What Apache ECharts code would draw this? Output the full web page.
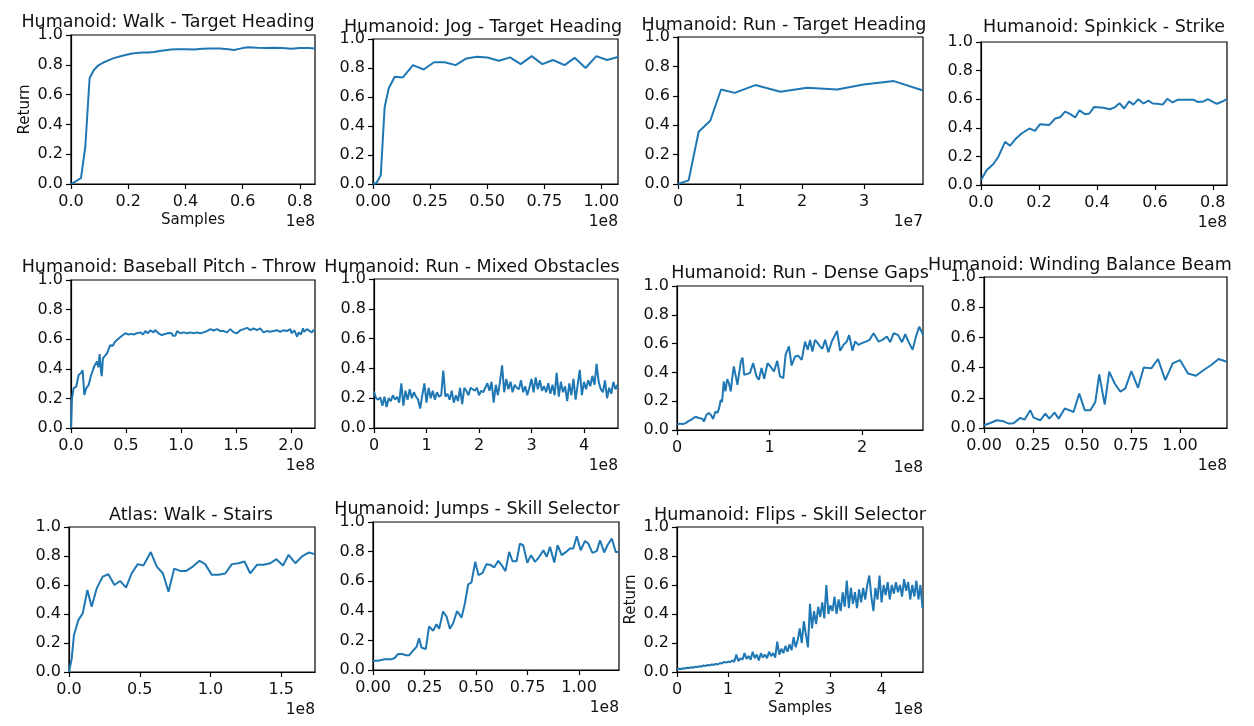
<!DOCTYPE html>
<html>
<head>
<meta charset="utf-8">
<title>Learning curves</title>
<script src="https://cdn.jsdelivr.net/npm/echarts@6/dist/echarts.min.js"></script>
<style>
  html, body { margin: 0; padding: 0; background: #fff; }
  #chart { width: 1254px; height: 726px; }
</style>
</head>
<body>
<div id="chart"></div>
<script>
// ---- data (x in units of the axis multiplier shown at bottom right) ----
const walkX = [0, 0.018, 0.035, 0.05, 0.065, 0.08, 0.095, 0.11, 0.13, 0.15, 0.17, 0.19, 0.21, 0.23, 0.25, 0.27, 0.29, 0.31, 0.33, 0.35, 0.37, 0.40, 0.43, 0.46, 0.49, 0.52, 0.55, 0.57, 0.60, 0.62, 0.65, 0.68, 0.71, 0.74, 0.77, 0.80, 0.83, 0.853]
const walkY = [0.0, 0.02, 0.04, 0.25, 0.71, 0.765, 0.795, 0.812, 0.83, 0.845, 0.856, 0.866, 0.874, 0.88, 0.882, 0.882, 0.886, 0.893, 0.898, 0.902, 0.905, 0.905, 0.902, 0.907, 0.909, 0.91, 0.905, 0.9, 0.912, 0.918, 0.914, 0.912, 0.914, 0.912, 0.908, 0.912, 0.912, 0.91]

const jogX = [0, 0.015, 0.034, 0.051, 0.069, 0.095, 0.131, 0.175, 0.222, 0.267, 0.314, 0.362, 0.409, 0.455, 0.5, 0.552, 0.6, 0.647, 0.695, 0.742, 0.788, 0.839, 0.883, 0.931, 0.978, 1.025, 1.073]
const jogY = [0, 0.007, 0.06, 0.53, 0.66, 0.74, 0.735, 0.82, 0.79, 0.84, 0.84, 0.82, 0.866, 0.878, 0.873, 0.85, 0.873, 0.827, 0.882, 0.827, 0.855, 0.82, 0.87, 0.80, 0.882, 0.855, 0.876]

const runX = [0, 0.172, 0.333, 0.52, 0.694, 0.914, 1.247, 1.65, 2.08, 2.565, 2.995, 3.48, 3.95]
const runY = [0, 0.025, 0.355, 0.43, 0.643, 0.62, 0.673, 0.627, 0.655, 0.643, 0.677, 0.70, 0.636]

const spinX = [0, 0.02, 0.043, 0.06, 0.083, 0.1, 0.121, 0.14, 0.167, 0.186, 0.204, 0.236, 0.256, 0.273, 0.29, 0.307, 0.325, 0.34, 0.359, 0.374, 0.39, 0.422, 0.445, 0.463, 0.478, 0.494, 0.511, 0.526, 0.543, 0.561, 0.578, 0.593, 0.609, 0.627, 0.643, 0.661, 0.678, 0.71, 0.733, 0.75, 0.768, 0.783, 0.797, 0.814, 0.831, 0.848]
const spinY = [0.035, 0.105, 0.147, 0.198, 0.302, 0.274, 0.326, 0.36, 0.395, 0.379, 0.425, 0.42, 0.465, 0.474, 0.513, 0.497, 0.472, 0.522, 0.495, 0.5, 0.545, 0.54, 0.53, 0.545, 0.572, 0.535, 0.585, 0.562, 0.6, 0.57, 0.59, 0.57, 0.568, 0.562, 0.603, 0.577, 0.596, 0.596, 0.596, 0.58, 0.584, 0.6, 0.585, 0.568, 0.582, 0.6]

const baseX = [0, 0.009, 0.024, 0.048, 0.07, 0.09, 0.106, 0.121, 0.139, 0.16, 0.18, 0.21, 0.236, 0.248, 0.26, 0.273, 0.28, 0.29, 0.30, 0.327, 0.357, 0.38, 0.40, 0.433, 0.464, 0.494, 0.524, 0.55, 0.57, 0.59, 0.606, 0.63, 0.655, 0.676, 0.697, 0.72, 0.735, 0.75, 0.765, 0.78, 0.795, 0.81, 0.825, 0.84, 0.855, 0.87, 0.885, 0.90, 0.915, 0.927, 0.948, 0.964, 0.98, 0.994, 1.01, 1.024, 1.04, 1.055, 1.07, 1.085, 1.10, 1.115, 1.13, 1.145, 1.16, 1.176, 1.19, 1.206, 1.22, 1.236, 1.25, 1.267, 1.28, 1.297, 1.31, 1.327, 1.34, 1.358, 1.37, 1.388, 1.40, 1.418, 1.43, 1.448, 1.46, 1.479, 1.495, 1.509, 1.52, 1.539, 1.555, 1.57, 1.585, 1.60, 1.615, 1.63, 1.645, 1.66, 1.675, 1.69, 1.705, 1.72, 1.735, 1.75, 1.765, 1.78, 1.795, 1.81, 1.825, 1.84, 1.855, 1.873, 1.89, 1.903, 1.92, 1.933, 1.95, 1.964, 1.98, 1.994, 2.005, 2.018, 2.03, 2.039, 2.055, 2.07, 2.09, 2.109, 2.12, 2.13, 2.145, 2.16, 2.17, 2.19, 2.205, 2.218]
const baseY = [0, 0.2, 0.27, 0.28, 0.36, 0.37, 0.39, 0.224, 0.27, 0.29, 0.35, 0.415, 0.45, 0.41, 0.5, 0.38, 0.35, 0.47, 0.46, 0.505, 0.56, 0.556, 0.583, 0.605, 0.623, 0.64, 0.632, 0.636, 0.632, 0.638, 0.632, 0.646, 0.632, 0.655, 0.64, 0.66, 0.648, 0.646, 0.662, 0.65, 0.64, 0.632, 0.628, 0.623, 0.635, 0.646, 0.642, 0.655, 0.64, 0.623, 0.623, 0.655, 0.648, 0.64, 0.652, 0.646, 0.638, 0.64, 0.652, 0.646, 0.636, 0.64, 0.65, 0.646, 0.64, 0.64, 0.648, 0.646, 0.652, 0.655, 0.645, 0.668, 0.662, 0.659, 0.648, 0.668, 0.66, 0.655, 0.66, 0.655, 0.65, 0.646, 0.656, 0.668, 0.655, 0.646, 0.636, 0.64, 0.652, 0.661, 0.658, 0.668, 0.664, 0.677, 0.666, 0.661, 0.672, 0.673, 0.66, 0.661, 0.668, 0.673, 0.662, 0.646, 0.652, 0.655, 0.648, 0.65, 0.658, 0.655, 0.66, 0.661, 0.652, 0.65, 0.66, 0.661, 0.652, 0.655, 0.662, 0.668, 0.64, 0.632, 0.66, 0.655, 0.617, 0.646, 0.632, 0.673, 0.65, 0.646, 0.668, 0.66, 0.655, 0.646, 0.662, 0.655]

const mixedX = [0, 0.04, 0.08, 0.12, 0.16, 0.20, 0.24, 0.28, 0.32, 0.36, 0.40, 0.44, 0.48, 0.52, 0.56, 0.60, 0.64, 0.68, 0.72, 0.76, 0.80, 0.84, 0.88, 0.92, 0.96, 1.00, 1.04, 1.08, 1.12, 1.16, 1.20, 1.24, 1.28, 1.32, 1.36, 1.40, 1.44, 1.48, 1.52, 1.56, 1.60, 1.64, 1.68, 1.72, 1.76, 1.80, 1.84, 1.88, 1.92, 1.96, 2.00, 2.04, 2.08, 2.12, 2.16, 2.20, 2.24, 2.28, 2.32, 2.36, 2.40, 2.44, 2.48, 2.52, 2.56, 2.60, 2.64, 2.68, 2.72, 2.76, 2.80, 2.84, 2.88, 2.92, 2.96, 3.00, 3.04, 3.08, 3.12, 3.16, 3.20, 3.24, 3.28, 3.32, 3.36, 3.40, 3.44, 3.48, 3.52, 3.56, 3.60, 3.64, 3.68, 3.72, 3.76, 3.80, 3.84, 3.88, 3.92, 3.96, 4.00, 4.04, 4.08, 4.12, 4.16, 4.20, 4.24, 4.28, 4.32, 4.36, 4.40, 4.44, 4.48, 4.52, 4.56, 4.60, 4.64]
const mixedY = [0.245, 0.20, 0.19, 0.205, 0.15, 0.21, 0.14, 0.20, 0.18, 0.22, 0.19, 0.21, 0.17, 0.30, 0.15, 0.25, 0.19, 0.26, 0.20, 0.24, 0.21, 0.19, 0.13, 0.22, 0.30, 0.17, 0.27, 0.20, 0.25, 0.19, 0.24, 0.21, 0.22, 0.385, 0.21, 0.23, 0.19, 0.25, 0.17, 0.22, 0.18, 0.27, 0.16, 0.27, 0.25, 0.22, 0.27, 0.26, 0.25, 0.27, 0.22, 0.25, 0.24, 0.27, 0.30, 0.25, 0.31, 0.17, 0.29, 0.22, 0.31, 0.42, 0.24, 0.33, 0.26, 0.31, 0.24, 0.29, 0.27, 0.26, 0.32, 0.24, 0.28, 0.22, 0.27, 0.33, 0.24, 0.34, 0.26, 0.32, 0.25, 0.28, 0.24, 0.30, 0.23, 0.29, 0.22, 0.37, 0.21, 0.31, 0.24, 0.28, 0.18, 0.30, 0.22, 0.33, 0.19, 0.29, 0.39, 0.22, 0.31, 0.26, 0.32, 0.28, 0.35, 0.29, 0.43, 0.31, 0.26, 0.24, 0.32, 0.20, 0.27, 0.23, 0.31, 0.26, 0.29]

const gapsX = [0, 0.029, 0.065, 0.094, 0.119, 0.155, 0.199, 0.235, 0.271, 0.292, 0.318, 0.343, 0.365, 0.39, 0.415, 0.437, 0.455, 0.473, 0.487, 0.505, 0.523, 0.542, 0.56, 0.581, 0.596, 0.614, 0.632, 0.653, 0.671, 0.69, 0.708, 0.726, 0.751, 0.787, 0.823, 0.859, 0.884, 0.913, 0.942, 0.978, 1.01, 1.047, 1.083, 1.112, 1.148, 1.173, 1.209, 1.238, 1.274, 1.31, 1.347, 1.383, 1.412, 1.437, 1.462, 1.491, 1.52, 1.545, 1.57, 1.6, 1.635, 1.671, 1.7, 1.729, 1.762, 1.798, 1.834, 1.859, 1.895, 1.924, 1.96, 1.996, 2.04, 2.08, 2.123, 2.177, 2.22, 2.267, 2.303, 2.34, 2.386, 2.43, 2.466, 2.502, 2.545, 2.581, 2.617, 2.657]
const gapsY = [0.037, 0.044, 0.042, 0.048, 0.06, 0.072, 0.092, 0.083, 0.079, 0.06, 0.106, 0.118, 0.106, 0.076, 0.129, 0.118, 0.152, 0.21, 0.194, 0.337, 0.268, 0.353, 0.326, 0.268, 0.36, 0.441, 0.383, 0.314, 0.395, 0.476, 0.503, 0.383, 0.388, 0.395, 0.464, 0.372, 0.349, 0.43, 0.356, 0.464, 0.441, 0.406, 0.48, 0.372, 0.36, 0.522, 0.58, 0.448, 0.51, 0.515, 0.487, 0.614, 0.557, 0.626, 0.545, 0.626, 0.603, 0.58, 0.564, 0.626, 0.54, 0.614, 0.649, 0.688, 0.55, 0.591, 0.614, 0.66, 0.55, 0.614, 0.591, 0.603, 0.614, 0.626, 0.672, 0.614, 0.626, 0.649, 0.61, 0.672, 0.661, 0.61, 0.665, 0.61, 0.557, 0.649, 0.718, 0.66]

const beamX = [0, 0.032, 0.066, 0.1, 0.126, 0.151, 0.185, 0.207, 0.236, 0.253, 0.287, 0.313, 0.333, 0.36, 0.381, 0.412, 0.435, 0.457, 0.486, 0.514, 0.543, 0.568, 0.588, 0.616, 0.639, 0.667, 0.696, 0.721, 0.752, 0.786, 0.815, 0.854, 0.888, 0.925, 0.963, 1.0, 1.041, 1.082, 1.121, 1.16, 1.197, 1.24]
const beamY = [0.018, 0.033, 0.051, 0.044, 0.029, 0.031, 0.067, 0.055, 0.118, 0.069, 0.051, 0.095, 0.062, 0.102, 0.062, 0.129, 0.118, 0.106, 0.228, 0.118, 0.118, 0.173, 0.355, 0.155, 0.373, 0.295, 0.24, 0.262, 0.377, 0.266, 0.4, 0.395, 0.457, 0.317, 0.428, 0.45, 0.361, 0.346, 0.384, 0.417, 0.457, 0.439]

const atlasX = [0, 0.019, 0.035, 0.066, 0.097, 0.13, 0.16, 0.196, 0.238, 0.278, 0.321, 0.361, 0.403, 0.443, 0.486, 0.526, 0.578, 0.62, 0.663, 0.703, 0.743, 0.785, 0.828, 0.875, 0.922, 0.962, 1.009, 1.057, 1.104, 1.151, 1.198, 1.24, 1.28, 1.328, 1.375, 1.422, 1.465, 1.512, 1.552, 1.599, 1.646, 1.693, 1.738]
const atlasY = [0, 0.092, 0.254, 0.358, 0.404, 0.566, 0.45, 0.577, 0.658, 0.674, 0.6, 0.628, 0.582, 0.681, 0.744, 0.734, 0.827, 0.727, 0.681, 0.554, 0.713, 0.697, 0.697, 0.727, 0.767, 0.744, 0.67, 0.67, 0.679, 0.744, 0.75, 0.762, 0.681, 0.739, 0.739, 0.75, 0.778, 0.734, 0.808, 0.75, 0.797, 0.824, 0.813]

const jumpsX = [0, 0.024, 0.057, 0.089, 0.105, 0.122, 0.143, 0.159, 0.175, 0.191, 0.211, 0.224, 0.235, 0.256, 0.272, 0.292, 0.308, 0.321, 0.34, 0.357, 0.373, 0.389, 0.408, 0.43, 0.446, 0.462, 0.478, 0.496, 0.512, 0.532, 0.551, 0.572, 0.588, 0.608, 0.624, 0.643, 0.661, 0.677, 0.697, 0.713, 0.729, 0.749, 0.767, 0.786, 0.807, 0.827, 0.843, 0.859, 0.88, 0.896, 0.916, 0.937, 0.956, 0.972, 0.989, 1.008, 1.029, 1.045, 1.065, 1.086, 1.102, 1.122, 1.138, 1.159, 1.178, 1.194]
const jumpsY = [0.063, 0.063, 0.072, 0.072, 0.081, 0.108, 0.108, 0.099, 0.099, 0.126, 0.155, 0.215, 0.152, 0.141, 0.294, 0.265, 0.309, 0.278, 0.395, 0.361, 0.278, 0.316, 0.399, 0.354, 0.451, 0.578, 0.592, 0.731, 0.641, 0.657, 0.715, 0.709, 0.693, 0.738, 0.709, 0.668, 0.798, 0.735, 0.735, 0.854, 0.843, 0.724, 0.776, 0.731, 0.765, 0.809, 0.765, 0.832, 0.726, 0.843, 0.776, 0.798, 0.821, 0.821, 0.904, 0.809, 0.872, 0.854, 0.791, 0.803, 0.877, 0.794, 0.843, 0.888, 0.798, 0.798]

const flipsX = [0, 0.04, 0.08, 0.12, 0.16, 0.20, 0.24, 0.28, 0.32, 0.36, 0.40, 0.44, 0.48, 0.52, 0.56, 0.60, 0.64, 0.68, 0.72, 0.76, 0.80, 0.84, 0.88, 0.92, 0.96, 1.00, 1.04, 1.08, 1.12, 1.16, 1.20, 1.24, 1.28, 1.32, 1.36, 1.40, 1.44, 1.48, 1.52, 1.56, 1.60, 1.64, 1.68, 1.72, 1.76, 1.80, 1.84, 1.88, 1.92, 1.96, 2.00, 2.04, 2.08, 2.12, 2.16, 2.20, 2.24, 2.28, 2.32, 2.36, 2.40, 2.44, 2.48, 2.52, 2.56, 2.60, 2.64, 2.68, 2.72, 2.76, 2.80, 2.84, 2.88, 2.92, 2.96, 3.00, 3.04, 3.08, 3.12, 3.16, 3.20, 3.24, 3.28, 3.32, 3.36, 3.40, 3.44, 3.48, 3.52, 3.56, 3.60, 3.64, 3.68, 3.72, 3.76, 3.80, 3.84, 3.88, 3.92, 3.96, 4.00, 4.04, 4.08, 4.12, 4.16, 4.20, 4.24, 4.28, 4.32, 4.36, 4.40, 4.44, 4.48, 4.52, 4.56, 4.60, 4.64, 4.68, 4.72, 4.76, 4.80]
const flipsY = [0.02, 0.022, 0.02, 0.026, 0.024, 0.03, 0.027, 0.033, 0.03, 0.036, 0.034, 0.04, 0.037, 0.045, 0.042, 0.048, 0.045, 0.052, 0.05, 0.056, 0.052, 0.062, 0.058, 0.07, 0.065, 0.072, 0.068, 0.08, 0.07, 0.12, 0.075, 0.095, 0.085, 0.13, 0.09, 0.11, 0.085, 0.14, 0.095, 0.12, 0.08, 0.13, 0.1, 0.12, 0.095, 0.14, 0.11, 0.13, 0.1, 0.21, 0.12, 0.16, 0.13, 0.18, 0.14, 0.19, 0.15, 0.24, 0.17, 0.22, 0.30, 0.2, 0.35, 0.26, 0.17, 0.47, 0.3, 0.42, 0.33, 0.45, 0.38, 0.48, 0.37, 0.6, 0.4, 0.46, 0.42, 0.52, 0.4, 0.5, 0.42, 0.55, 0.45, 0.63, 0.44, 0.58, 0.47, 0.55, 0.44, 0.57, 0.48, 0.58, 0.5, 0.6, 0.665, 0.52, 0.42, 0.58, 0.5, 0.665, 0.48, 0.6, 0.53, 0.62, 0.5, 0.6, 0.54, 0.62, 0.55, 0.6, 0.52, 0.64, 0.56, 0.62, 0.5, 0.6, 0.52, 0.63, 0.5, 0.6, 0.44]

// tick labels
const yTicks = [0, 0.2, 0.4, 0.6, 0.8, 1.0]
const walkTicks = [0, 0.2, 0.4, 0.6, 0.8]
const jogTicks = [0, 0.25, 0.5, 0.75, 1.0]
const runTicks = [0, 1, 2, 3]
const spinTicks = [0, 0.2, 0.4, 0.6, 0.8]
const baseTicks = [0, 0.5, 1.0, 1.5, 2.0]
const mixedTicks = [0, 1, 2, 3, 4]
const gapsTicks = [0, 1, 2]
const beamTicks = [0, 0.25, 0.5, 0.75, 1.0]
const atlasTicks = [0, 0.5, 1.0, 1.5]
const jumpsTicks = [0, 0.25, 0.5, 0.75, 1.0]
const flipsTicks = [0, 1, 2, 3, 4]

const panels = [
  { title: 'Humanoid: Walk - Target Heading', x: walkX, y: walkY, ticks: walkTicks, max: 0.853, dec: 1, exp: '1e8', xName: 'Samples', yName: 'Return' },
  { title: 'Humanoid: Jog - Target Heading', x: jogX, y: jogY, ticks: jogTicks, max: 1.073, dec: 2, exp: '1e8' },
  { title: 'Humanoid: Run - Target Heading', x: runX, y: runY, ticks: runTicks, max: 3.95, dec: 0, exp: '1e7' },
  { title: 'Humanoid: Spinkick - Strike', x: spinX, y: spinY, ticks: spinTicks, max: 0.849, dec: 1, exp: '1e8' },
  { title: 'Humanoid: Baseball Pitch - Throw', x: baseX, y: baseY, ticks: baseTicks, max: 2.218, dec: 1, exp: '1e8' },
  { title: 'Humanoid: Run - Mixed Obstacles', x: mixedX, y: mixedY, ticks: mixedTicks, max: 4.648, dec: 0, exp: '1e8' },
  { title: 'Humanoid: Run - Dense Gaps', x: gapsX, y: gapsY, ticks: gapsTicks, max: 2.657, dec: 0, exp: '1e8' },
  { title: 'Humanoid: Winding Balance Beam', x: beamX, y: beamY, ticks: beamTicks, max: 1.24, dec: 2, exp: '1e8' },
  { title: 'Atlas: Walk - Stairs', x: atlasX, y: atlasY, ticks: atlasTicks, max: 1.738, dec: 1, exp: '1e8' },
  { title: 'Humanoid: Jumps - Skill Selector', x: jumpsX, y: jumpsY, ticks: jumpsTicks, max: 1.194, dec: 2, exp: '1e8' },
  { title: 'Humanoid: Flips - Skill Selector', x: flipsX, y: flipsY, ticks: flipsTicks, max: 4.81, dec: 0, exp: '1e8', xName: 'Samples', yName: 'Return' }
]

// ---- layout: plot box [left, top, width, height] and title [centerX, capTop] ----
const boxes = [
  [71, 35, 244, 149], [373, 39, 245, 145], [678, 37, 245, 147], [981, 42, 246, 143],
  [71, 280, 244, 148], [374, 279, 244, 149], [677, 286, 246, 144], [984, 277, 243, 151],
  [69, 527, 246, 145], [373, 522, 246, 148], [677, 527, 246, 145]
]
const titlePos = [
  [168, 15], [483, 20], [784, 18], [1104, 20],
  [169, 260], [472, 260], [800, 266], [1080, 258],
  [191, 508], [477, 502], [790, 508]
]

const FONT = '"DejaVu Sans", sans-serif'
const INK = '#111'
const LINE = '#1f77b4'

const grid = [], xAxis = [], yAxis = [], series = [], graphic = []

panels.forEach((p, i) => {
  const [left, top, width, height] = boxes[i]

  grid.push({ left, top, width, height, show: true, borderColor: '#000', borderWidth: 1.2, backgroundColor: 'transparent' })

  xAxis.push({
    type: 'value', gridIndex: i, min: 0, max: p.max,
    axisLine: { show: true, onZero: false, lineStyle: { color: '#000', width: 1.2 } },
    axisTick: { show: true, length: 5, customValues: p.ticks, lineStyle: { color: '#000', width: 1.2 } },
    axisLabel: { customValues: p.ticks, formatter: (v) => v.toFixed(p.dec), color: INK, fontSize: 16, fontFamily: FONT, margin: 10 },
    splitLine: { show: false },
    name: p.xName || '', nameLocation: 'middle', nameGap: 29,
    nameTextStyle: { color: INK, fontSize: 15, fontFamily: FONT }
  })

  yAxis.push({
    type: 'value', gridIndex: i, min: 0, max: 1, interval: 0.2,
    axisLine: { show: true, lineStyle: { color: '#000', width: 1.2 } },
    axisTick: { show: true, length: 5, lineStyle: { color: '#000', width: 1.2 } },
    axisLabel: { formatter: (v) => v.toFixed(1), color: INK, fontSize: 16, fontFamily: FONT, margin: 8 },
    splitLine: { show: false },
    name: p.yName || '', nameLocation: 'middle', nameGap: 38,
    nameTextStyle: { color: INK, fontSize: 15, fontFamily: FONT }
  })

  series.push({
    type: 'line', xAxisIndex: i, yAxisIndex: i,
    data: p.x.map((x, k) => [x, p.y[k]]),
    showSymbol: false, symbol: 'none', silent: true,
    lineStyle: { color: LINE, width: 2 }
  })

  // panel title
  graphic.push({
    type: 'text', x: titlePos[i][0], y: titlePos[i][1] - 2, silent: true,
    style: { text: p.title, fill: INK, fontSize: 17.5, fontFamily: FONT, align: 'center', verticalAlign: 'top' }
  })

  // axis multiplier ("1e8") under the right end of the x axis
  graphic.push({
    type: 'text', x: left + width, y: top + height + 30, silent: true,
    style: { text: p.exp, fill: INK, fontSize: 15.5, fontFamily: FONT, align: 'right', verticalAlign: 'top' }
  })
})

const myChart = echarts.init(document.getElementById('chart'), null, { renderer: 'canvas' })
myChart.setOption({
  animation: false,
  backgroundColor: '#fff',
  grid, xAxis, yAxis, series, graphic
})
</script>
</body>
</html>
